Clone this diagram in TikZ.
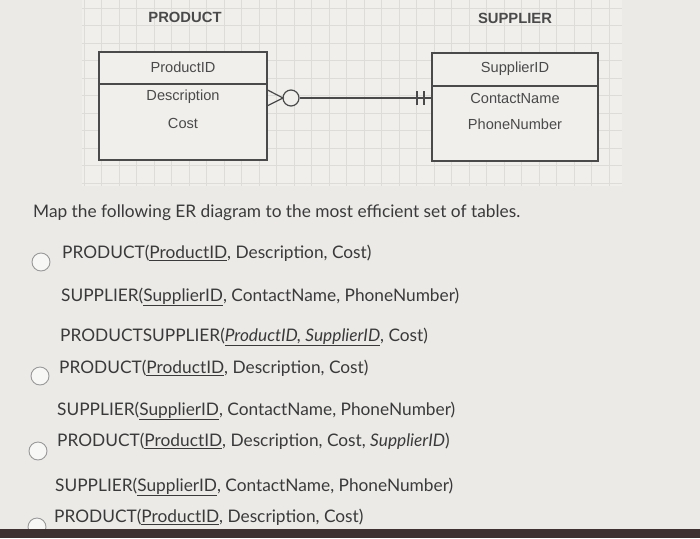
\documentclass[tikz,border=0pt]{standalone}
\usepackage{fontspec}
\setmainfont{Lato}
\newfontfamily\erfont{Liberation Sans}
\definecolor{paper}{HTML}{EBEAE7}
\definecolor{sheet}{HTML}{F0EFEC}
\definecolor{gridgray}{HTML}{DDDCD8}
\definecolor{ink}{HTML}{3A3A3A}
\definecolor{erink}{HTML}{4A4A4A}
\definecolor{bezel}{HTML}{3F3031}
\tikzset{
  entbox/.style={draw=erink, line width=1.2pt, minimum width=168pt, minimum height=108pt, inner sep=0pt},
  attr/.style={font=\erfont\fontsize{14.6}{16}\selectfont, text=erink},
  enttitle/.style={font=\erfont\bfseries\fontsize{14.8}{16}\selectfont, text=erink},
  relline/.style={draw=erink, line width=1.2pt},
  answer/.style={anchor=west, font=\fontsize{17.3}{20}\selectfont, text=ink, inner sep=0pt},
  radio/.style={draw=gray!80, line width=0.9pt, fill=white!60!paper},
}
\begin{document}
\begin{tikzpicture}[x=1pt, y=-1pt]
  \useasboundingbox (0,0) rectangle (700,538);
  \fill[paper] (0,0) rectangle (700,538);
  \fill[sheet] (82,0) rectangle (622,186);
  \foreach \gx in {84,101.5,...,620}
    \draw[gridgray, very thin] (\gx,0) -- (\gx,186);
  \foreach \gy in {8,25.5,...,186}
    \draw[gridgray, very thin] (82,\gy) -- (622,\gy);

  % entities
  \node[enttitle] (prodtitle) at (185,17) {PRODUCT};
  \node[enttitle] (supptitle) at (515,18) {SUPPLIER};
  \node[entbox, fill=sheet] (prod) at (183,106) {};
  \node[entbox, fill=sheet, minimum width=166pt] (supp) at (515,107) {};
  \draw[relline] (prod.west |- 0,84) -- (prod.east |- 0,84);
  \draw[relline] (supp.west |- 0,86) -- (supp.east |- 0,86);
  \node[attr] (pid) at (183,67) {ProductID};
  \node[attr] (pdesc) at (183,97) {Description};
  \node[attr] (pcost) at (183,123) {Cost};
  \node[attr] (sid) at (515,69) {SupplierID};
  \node[attr] (sname) at (515,98) {ContactName};
  \node[attr] (sphone) at (515,124) {PhoneNumber};

  % relationship: many (optional) to one (mandatory)
  \coordinate (foot) at (prod.east |- 0,98);
  \coordinate (tip) at (283,98);
  \node[draw=erink, line width=1.2pt, circle, minimum size=16pt, inner sep=0pt, fill=sheet] (opt) at (291,98) {};
  \draw[relline] (foot) ++(0,-8) -- (tip) -- ++(-16,8);
  \draw[relline] (opt.east) -- (supp.west |- opt.east);
  \draw[relline] (417,91) -- (417,105);
  \draw[relline] (424,91) -- (424,105);

  % question
  \node[answer] (question) at (33,213) {Map the following ER diagram to the most efficient set of tables.};
  \node[radio, circle, minimum size=18pt, inner sep=0pt] (r1) at (41,262) {};
  \node[answer] (a1p) at (62,253) {PRODUCT(\underline{ProductID}, Description, Cost)};
  \node[answer] (a1s) at (61,297) {SUPPLIER(\underline{SupplierID}, ContactName, PhoneNumber)};
  \node[answer] (a1j) at (60,337) {PRODUCTSUPPLIER(\underline{\textit{ProductID, SupplierID}}, Cost)};
  \node[radio, circle, minimum size=18pt, inner sep=0pt] (r2) at (40,376) {};
  \node[answer] (a2p) at (59,368) {PRODUCT(\underline{ProductID}, Description, Cost)};
  \node[answer] (a2s) at (57,411) {SUPPLIER(\underline{SupplierID}, ContactName, PhoneNumber)};
  \node[radio, circle, minimum size=18pt, inner sep=0pt] (r3) at (38,451) {};
  \node[answer] (a3p) at (57,441) {PRODUCT(\underline{ProductID}, Description, Cost, \textit{SupplierID})};
  \node[answer] (a3s) at (55,487) {SUPPLIER(\underline{SupplierID}, ContactName, PhoneNumber)};
  \node[radio, circle, minimum size=18pt, inner sep=0pt] (r4) at (37,527) {};
  \node[answer] (a4p) at (54,517) {PRODUCT(\underline{ProductID}, Description, Cost)};

  \fill[bezel] (0,529) rectangle (700,538);
\end{tikzpicture}
\end{document}
